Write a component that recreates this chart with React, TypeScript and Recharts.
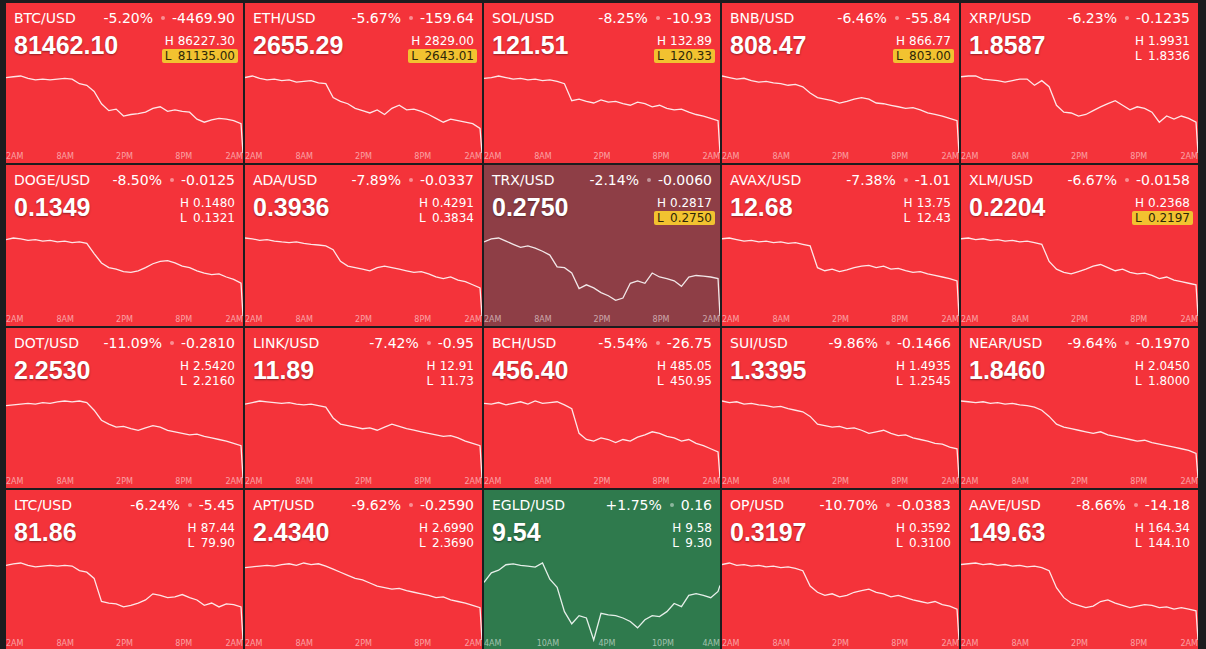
import { LineChart, Line, XAxis, YAxis } from "recharts";

const symbols = [
  "BTC/USD", "ETH/USD", "SOL/USD", "BNB/USD", "XRP/USD",
  "DOGE/USD", "ADA/USD", "TRX/USD", "AVAX/USD", "XLM/USD",
  "DOT/USD", "LINK/USD", "BCH/USD", "SUI/USD", "NEAR/USD",
  "LTC/USD", "APT/USD", "EGLD/USD", "OP/USD", "AAVE/USD",
];
const lastPrices = [
  "81462.10", "2655.29", "121.51", "808.47", "1.8587",
  "0.1349", "0.3936", "0.2750", "12.68", "0.2204",
  "2.2530", "11.89", "456.40", "1.3395", "1.8460",
  "81.86", "2.4340", "9.54", "0.3197", "149.63",
];
const changePct = [
  "-5.20%", "-5.67%", "-8.25%", "-6.46%", "-6.23%",
  "-8.50%", "-7.89%", "-2.14%", "-7.38%", "-6.67%",
  "-11.09%", "-7.42%", "-5.54%", "-9.86%", "-9.64%",
  "-6.24%", "-9.62%", "+1.75%", "-10.70%", "-8.66%",
];
const changeAbs = [
  "-4469.90", "-159.64", "-10.93", "-55.84", "-0.1235",
  "-0.0125", "-0.0337", "-0.0060", "-1.01", "-0.0158",
  "-0.2810", "-0.95", "-26.75", "-0.1466", "-0.1970",
  "-5.45", "-0.2590", "0.16", "-0.0383", "-14.18",
];
const highs = [
  "86227.30", "2829.00", "132.89", "866.77", "1.9931",
  "0.1480", "0.4291", "0.2817", "13.75", "0.2368",
  "2.5420", "12.91", "485.05", "1.4935", "2.0450",
  "87.44", "2.6990", "9.58", "0.3592", "164.34",
];
const lows = [
  "81135.00", "2643.01", "120.33", "803.00", "1.8336",
  "0.1321", "0.3834", "0.2750", "12.43", "0.2197",
  "2.2160", "11.73", "450.95", "1.2545", "1.8000",
  "79.90", "2.3690", "9.30", "0.3100", "144.10",
];
// true where the low is the latest print (yellow badge)
const atLow = [
  true, true, true, true, false,
  false, false, true, false, true,
  false, false, false, false, false,
  false, false, false, false, false,
];
const tones = [
  "down", "down", "down", "down", "down",
  "down", "down", "flat", "down", "down",
  "down", "down", "down", "down", "down",
  "down", "down", "up", "down", "down",
];

const hourTicks = [0, 6, 12, 18, 24];
const hourLabels = ["2AM", "8AM", "2PM", "8PM", "2AM"];
const egldTicks = [0, 6.5, 12.5, 18.2, 24];
const egldLabels = ["4AM", "10AM", "4PM", "10PM", "4AM"];

const btc = [86125, 86176, 86227, 86074, 85972, 86023, 85972, 86023, 86074, 86023, 85718, 85616, 85209, 84394, 83936, 84037, 83579, 83681, 83732, 83834, 84088, 84190, 83885, 83986, 83885, 83834, 83376, 83172, 83325, 83426, 83376, 83274, 83070, 81135];
const eth = [2825.3, 2829, 2823.4, 2819.7, 2821.6, 2817.8, 2819.7, 2814.1, 2816, 2817.8, 2812.3, 2810.4, 2776.9, 2767.6, 2762, 2750.9, 2745.3, 2739.7, 2747.2, 2736, 2750.9, 2758.3, 2747.2, 2749, 2743.4, 2736, 2726.7, 2717.4, 2724.8, 2721.1, 2717.4, 2713.7, 2702.5, 2643.01];
const sol = [132.51, 132.64, 132.89, 132.64, 132.39, 132.51, 132.26, 132.39, 132.14, 132.26, 132.01, 131.63, 128.87, 129.12, 128.75, 128.49, 129.0, 128.62, 128.75, 128.37, 128.12, 128.62, 128.37, 127.87, 128.12, 127.61, 127.36, 127.49, 126.99, 126.61, 126.36, 125.98, 125.6, 120.33];
const bnb = [866.77, 865.5, 864.2, 864.9, 862.9, 861.7, 862.3, 861.0, 860.4, 859.1, 859.8, 857.8, 852.7, 848.9, 847.6, 846.4, 844.4, 845.7, 847.6, 848.9, 847.6, 844.4, 843.8, 842.5, 841.3, 840.0, 840.6, 838.7, 836.2, 834.9, 833.6, 831.6, 829.8, 803.0];
const xrp = [1.9915, 1.9931, 1.9931, 1.9867, 1.9851, 1.9835, 1.9803, 1.9835, 1.9867, 1.9867, 1.974, 1.9835, 1.9708, 1.9325, 1.9181, 1.9165, 1.9102, 1.9134, 1.9213, 1.9293, 1.9357, 1.9421, 1.9325, 1.9229, 1.9293, 1.9261, 1.9181, 1.8974, 1.9102, 1.9038, 1.9102, 1.9054, 1.8974, 1.8336];
const doge = [0.14768, 0.148, 0.14784, 0.14752, 0.14768, 0.14736, 0.14752, 0.1472, 0.14736, 0.14705, 0.1472, 0.14689, 0.14482, 0.14291, 0.14196, 0.14164, 0.14116, 0.141, 0.14132, 0.14196, 0.14275, 0.14323, 0.14339, 0.14291, 0.14228, 0.14196, 0.14132, 0.14085, 0.14053, 0.14069, 0.14005, 0.13957, 0.13878, 0.1321];
const ada = [0.4291, 0.4286, 0.4277, 0.4282, 0.4273, 0.4268, 0.4264, 0.4268, 0.4259, 0.4254, 0.425, 0.4245, 0.4222, 0.4154, 0.4126, 0.4117, 0.4108, 0.4099, 0.4117, 0.4126, 0.4117, 0.4108, 0.4099, 0.409, 0.4094, 0.4081, 0.4063, 0.4053, 0.4063, 0.4044, 0.4035, 0.4017, 0.3999, 0.3834];
const trx = [0.28137, 0.28163, 0.2817, 0.28143, 0.28116, 0.2809, 0.28103, 0.28083, 0.28056, 0.28023, 0.27922, 0.27915, 0.27869, 0.27735, 0.27768, 0.27741, 0.27701, 0.27674, 0.27634, 0.27654, 0.27781, 0.27802, 0.27781, 0.27869, 0.27835, 0.27822, 0.27802, 0.27755, 0.27835, 0.27848, 0.27842, 0.27835, 0.27822, 0.275];
const avax = [13.737, 13.75, 13.724, 13.697, 13.71, 13.684, 13.697, 13.671, 13.684, 13.658, 13.671, 13.644, 13.618, 13.248, 13.196, 13.222, 13.182, 13.209, 13.248, 13.275, 13.288, 13.248, 13.275, 13.222, 13.235, 13.196, 13.169, 13.182, 13.143, 13.116, 13.09, 13.064, 13.024, 12.43];
const xlm = [0.23663, 0.2368, 0.23646, 0.23663, 0.23629, 0.23646, 0.23612, 0.23629, 0.23595, 0.23612, 0.23577, 0.23543, 0.23167, 0.22996, 0.22928, 0.22893, 0.22945, 0.22996, 0.23064, 0.23099, 0.2303, 0.22962, 0.22996, 0.22928, 0.22893, 0.2291, 0.22859, 0.22791, 0.22825, 0.22757, 0.22722, 0.22688, 0.22654, 0.2197];
const dot = [2.5224, 2.5257, 2.529, 2.5322, 2.529, 2.5355, 2.5322, 2.5387, 2.542, 2.5387, 2.542, 2.5355, 2.5029, 2.4605, 2.4442, 2.4312, 2.4344, 2.4246, 2.4181, 2.4279, 2.4377, 2.4312, 2.4181, 2.4116, 2.4051, 2.3986, 2.4018, 2.392, 2.3855, 2.379, 2.3725, 2.3627, 2.3529, 2.216];
const link = [12.863, 12.886, 12.91, 12.898, 12.886, 12.875, 12.886, 12.863, 12.851, 12.863, 12.839, 12.816, 12.65, 12.556, 12.532, 12.509, 12.485, 12.497, 12.462, 12.509, 12.556, 12.521, 12.485, 12.462, 12.438, 12.414, 12.391, 12.367, 12.379, 12.344, 12.296, 12.261, 12.226, 11.73];
const bch = [484.03, 483.69, 484.37, 483.35, 484.03, 484.71, 483.69, 485.05, 484.03, 484.37, 484.71, 483.35, 481.64, 470.73, 468.0, 467.32, 468.68, 468.0, 466.64, 468.0, 467.32, 469.02, 470.05, 471.41, 470.73, 469.36, 468.68, 467.32, 468.0, 466.3, 465.27, 463.91, 462.54, 450.95];
const sui = [1.4935, 1.4887, 1.4911, 1.4839, 1.4863, 1.4816, 1.4792, 1.4744, 1.4768, 1.4696, 1.4648, 1.46, 1.4457, 1.4218, 1.417, 1.4122, 1.4146, 1.4075, 1.4099, 1.4027, 1.3931, 1.3979, 1.4027, 1.3931, 1.386, 1.3884, 1.3788, 1.374, 1.3692, 1.3621, 1.3597, 1.3501, 1.3453, 1.2545];
const near = [2.045, 2.0426, 2.0401, 2.0426, 2.0377, 2.0401, 2.0352, 2.0377, 2.0328, 2.0303, 2.0254, 2.0156, 1.996, 1.9715, 1.9617, 1.9568, 1.9519, 1.947, 1.9421, 1.947, 1.9372, 1.9323, 1.9274, 1.9225, 1.9176, 1.9201, 1.9127, 1.9078, 1.9029, 1.898, 1.8931, 1.8882, 1.8784, 1.8];
const ltc = [87.21, 87.36, 87.44, 87.21, 87.06, 87.14, 87.21, 87.14, 87.21, 87.14, 86.69, 86.54, 85.93, 83.67, 83.52, 83.44, 83.14, 83.29, 83.52, 83.82, 84.42, 84.27, 84.05, 84.12, 84.35, 84.05, 83.82, 83.29, 83.52, 83.14, 83.44, 83.37, 83.14, 79.9];
const apt = [2.6792, 2.6825, 2.6858, 2.6891, 2.6858, 2.6924, 2.6957, 2.6891, 2.699, 2.6924, 2.6957, 2.6858, 2.6726, 2.6594, 2.6462, 2.633, 2.6264, 2.6132, 2.6, 2.5934, 2.5868, 2.5901, 2.5802, 2.5736, 2.567, 2.5604, 2.5505, 2.5538, 2.5406, 2.534, 2.5274, 2.5175, 2.5076, 2.369];
const egld = [9.513, 9.546, 9.555, 9.574, 9.577, 9.572, 9.569, 9.566, 9.58, 9.524, 9.496, 9.412, 9.37, 9.398, 9.39, 9.314, 9.406, 9.401, 9.398, 9.39, 9.378, 9.356, 9.384, 9.398, 9.395, 9.412, 9.44, 9.429, 9.468, 9.474, 9.468, 9.46, 9.482, 9.502];
const op = [0.35822, 0.3592, 0.35772, 0.35822, 0.35723, 0.35772, 0.35674, 0.35723, 0.35625, 0.35674, 0.35576, 0.35428, 0.34444, 0.3405, 0.33854, 0.33952, 0.33755, 0.33854, 0.3405, 0.34149, 0.34247, 0.3405, 0.33952, 0.33755, 0.33854, 0.33706, 0.33558, 0.3346, 0.33362, 0.3346, 0.33263, 0.33165, 0.32968, 0.31];
const aave = [163.94, 164.14, 164.34, 163.94, 164.14, 163.73, 163.94, 163.53, 163.73, 163.33, 163.53, 163.13, 162.32, 157.86, 155.23, 153.82, 153.21, 152.6, 153.01, 154.22, 154.62, 153.82, 153.21, 152.6, 153.01, 153.41, 153.21, 152.6, 152.8, 152.2, 152.6, 152.2, 151.79, 144.1];

const series = [btc, eth, sol, bnb, xrp, doge, ada, trx, avax, xlm, dot, link, bch, sui, near, ltc, apt, egld, op, aave];

const BG = { down: "#f4333a", flat: "#8e3e46", up: "#2f7a4d" };
const SANS = '"DejaVu Sans", sans-serif';

// last point is the live tick, drawn at the right edge
function toPoints(vals: number[]) {
  const n = vals.length - 1;
  return vals.map((v, i) => ({ t: i === n ? 24 : (i * 23.8) / (n - 1), v }));
}

function Tile({ i, left, top, width, height }: { i: number; left: number; top: number; width: number; height: number }) {
  const isEgld = symbols[i] === "EGLD/USD";
  const ticks = isEgld ? egldTicks : hourTicks;
  const labels = isEgld ? egldLabels : hourLabels;
  const chartTop = 62;
  return (
    <div style={{ position: "absolute", left, top, width, height, background: BG[tones[i]], overflow: "hidden", color: "#fff", fontFamily: SANS }}>
      <div style={{ position: "absolute", left: 8, top: 7, fontSize: 14, lineHeight: "16px" }}>{symbols[i]}</div>
      <div style={{ position: "absolute", right: 8, top: 7, fontSize: 14, lineHeight: "16px", display: "flex", alignItems: "center" }}>
        <span>{changePct[i]}</span>
        <span style={{ width: 4, height: 4, borderRadius: 2, background: "rgba(255,255,255,0.45)", margin: "0 7px 0 8px" }} />
        <span>{changeAbs[i]}</span>
      </div>
      <div style={{ position: "absolute", left: 8, top: 27, fontSize: 25, lineHeight: "30px", fontWeight: 700, fontFamily: '"Liberation Sans", Arial, sans-serif', textShadow: "0 1px 2px rgba(0,0,0,0.4)" }}>
        {lastPrices[i]}
      </div>
      <div style={{ position: "absolute", right: 5, top: 31, fontSize: 12, lineHeight: "14px" }}>
        <div style={{ display: "flex", justifyContent: "space-between", gap: 4, padding: "0 3px 0 3px", height: 14, marginBottom: 1 }}>
          <span>H</span>
          <span>{highs[i]}</span>
        </div>
        <div style={{ display: "flex", justifyContent: "space-between", gap: 4, padding: "0 3px 0 3px", height: 14, borderRadius: 2, background: atLow[i] ? "#f2c230" : "transparent", color: atLow[i] ? "#2e2608" : "#fff" }}>
          <span>L</span>
          <span>{lows[i]}</span>
        </div>
      </div>
      <div style={{ position: "absolute", left: 0, top: chartTop }}>
        <LineChart width={width} height={height - chartTop} data={toPoints(series[i])} margin={{ top: 11, right: 0, bottom: 0, left: 0 }}>
          <XAxis
            dataKey="t"
            type="number"
            domain={[0, 24]}
            ticks={ticks}
            interval={0}
            height={10}
            axisLine={false}
            tickLine={false}
            tickSize={0}
            tickMargin={0}
            tick={(p: any) => (
              <text
                x={p.x}
                y={p.y}
                dy={5.5}
                fontSize={8}
                fontFamily={SANS}
                fill="rgba(255,255,255,0.55)"
                textAnchor={p.index === 0 ? "start" : p.index === ticks.length - 1 ? "end" : "middle"}
              >
                {labels[p.index]}
              </text>
            )}
          />
          <YAxis hide domain={["dataMin", "dataMax"]} />
          <Line type="linear" dataKey="v" stroke="rgba(255,255,255,0.88)" strokeWidth={1.3} dot={false} isAnimationActive={false} />
        </LineChart>
      </div>
    </div>
  );
}

export default function App() {
  const colW = 238.8;
  const rowH = 162.3;
  const tiles = symbols.map((_, i) => {
    const c = i % 5;
    const r = Math.floor(i / 5);
    const left = Math.round(6 + c * colW);
    const top = Math.round(3 + r * rowH);
    const width = Math.round(6 + (c + 1) * colW) - left - 2;
    const height = Math.round(3 + (r + 1) * rowH) - top - 2;
    return <Tile key={symbols[i]} i={i} left={left} top={top} width={width} height={height} />;
  });
  return (
    <div style={{ position: "fixed", left: 0, top: 0, width: 1206, height: 649, background: "#1c1c1e", overflow: "hidden" }}>
      {tiles}
    </div>
  );
}
